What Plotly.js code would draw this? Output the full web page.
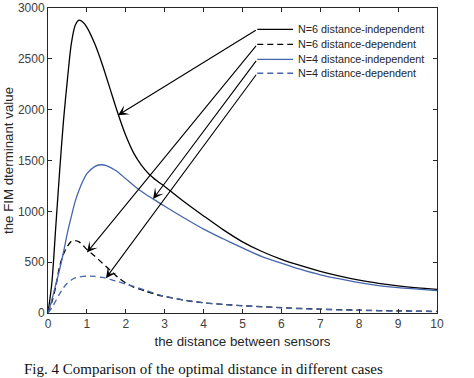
<!DOCTYPE html>
<html>
<head>
<meta charset="utf-8">
<script src="https://cdn.plot.ly/plotly-3.0.1.min.js"></script>
<style>
html,body{margin:0;padding:0;background:#fff;}
#chart{width:474px;height:378px;}
</style>
</head>
<body>
<div id="chart"></div>
<script>
// ---- data ----
var xIndep6 = [0,0.1,0.2,0.3,0.4,0.5,0.6,0.7,0.8,0.9,1.0,1.2,1.4,1.6,1.8,2.0,2.2,2.4,2.6,2.8,3.0,3.5,4.0,4.5,5.0,5.5,6.0,6.5,7.0,7.5,8.0,8.5,9.0,9.5,10];
var yIndep6 = [0,300,850,1400,1900,2300,2650,2830,2880,2860,2810,2650,2440,2200,1960,1745,1575,1455,1365,1300,1245,1095,955,820,700,605,528,465,410,363,323,292,267,248,233];

var xDep6 = [0,0.1,0.2,0.3,0.4,0.5,0.6,0.7,0.8,0.9,1.0,1.2,1.4,1.6,1.8,2.0,2.2,2.5,2.8,3.0,3.5,4.0,4.5,5.0,5.5,6.0,7.0,8.0,9.0,10];
var yDep6 = [0,110,260,460,580,655,705,712,700,665,625,560,490,420,350,295,255,215,180,162,125,100,85,72,62,52,38,28,21,16];

var xIndep4 = [0,0.1,0.2,0.3,0.4,0.5,0.6,0.7,0.8,0.9,1.0,1.2,1.35,1.5,1.75,2.0,2.25,2.5,2.75,3.0,3.5,4.0,4.5,5.0,5.5,6.0,6.5,7.0,7.5,8.0,8.5,9.0,9.5,10];
var yIndep4 = [0,130,280,430,600,790,950,1100,1210,1300,1370,1440,1458,1450,1400,1320,1240,1170,1110,1050,935,825,730,640,555,490,428,375,335,298,270,250,235,220];

var xDep4 = [0,0.1,0.2,0.3,0.4,0.5,0.6,0.7,0.8,0.9,1.0,1.1,1.2,1.4,1.6,1.8,2.0,2.2,2.5,2.8,3.0,3.5,4.0,4.5,5.0,5.5,6.0,7.0,8.0,9.0,10];
var yDep4 = [0,50,120,190,250,295,325,345,355,360,362,363,360,350,330,308,285,262,225,185,165,127,100,84,70,60,50,36,26,19,14];

var seriesNames = ["N=6 distance-independent","N=6 distance-dependent","N=4 distance-independent","N=4 distance-dependent"];
var xTickVals = [0,1,2,3,4,5,6,7,8,9,10];
var yTickVals = [0,500,1000,1500,2000,2500,3000];
var xTitle = "the distance between sensors";
var yTitle = "the FIM dterminant value";
var caption = "Fig. 4 Comparison of the optimal distance in different cases";

// arrow targets on the curves (data coords)
var arrowTipX = [1.80, 1.00, 2.70, 1.49];
var arrowTipY = [1945, 595, 1122, 343];

// ---- styling ----
var BLACK = "#000000", BLUE = "#4565ad";
var colors = [BLACK, BLACK, BLUE, BLUE];
var dashes = ["solid", "6px,4px", "solid", "6px,4px"];
var xs = [xIndep6, xDep6, xIndep4, xDep4];
var ys = [yIndep6, yDep6, yIndep4, yDep4];

var traces = [];
for (var i = 0; i < 4; i++) {
  traces.push({
    type: "scatter", mode: "lines", name: seriesNames[i],
    x: xs[i], y: ys[i],
    line: {color: colors[i], width: 1.3, dash: dashes[i], shape: "spline", smoothing: 0.8},
    hoverinfo: "skip"
  });
}

// legend drawn MATLAB-style (no box) with arrows from each entry to its curve
var legX0 = 5.38, legX1 = 6.30, legTextX = 6.37;
var legY = [2790, 2642, 2494, 2358];
var shapes = [], annotations = [];
for (var j = 0; j < 4; j++) {
  shapes.push({type: "line", xref: "x", yref: "y", x0: legX0, x1: legX1, y0: legY[j], y1: legY[j],
               line: {color: colors[j], width: 1.3, dash: dashes[j]}});
  annotations.push({xref: "x", yref: "y", x: legTextX, y: legY[j], text: seriesNames[j],
                    showarrow: false, xanchor: "left", yanchor: "middle",
                    font: {family: "Liberation Sans, Arial, sans-serif", size: 10.8, color: "#262626"}});
  annotations.push({xref: "x", yref: "y", x: arrowTipX[j], y: arrowTipY[j],
                    axref: "x", ayref: "y", ax: legX0, ay: legY[j], text: "",
                    showarrow: true, arrowhead: 3, arrowsize: 1.6, arrowwidth: 1.1,
                    arrowcolor: "#000", standoff: 0, startstandoff: 0});
}
annotations.push({xref: "paper", yref: "paper", x: -0.068, y: -0.15, xanchor: "left", yanchor: "top",
                  text: caption, showarrow: false,
                  font: {family: "Liberation Serif, Times New Roman, serif", size: 15, color: "#111"}});

var axisFont = {family: "Liberation Sans, Arial, sans-serif", size: 12, color: "#404040"};
var layout = {
  width: 474, height: 378,
  margin: {l: 48, r: 37, t: 8, b: 65, pad: 0},
  paper_bgcolor: "#fff", plot_bgcolor: "#fff",
  showlegend: false,
  xaxis: {
    range: [0, 10], tickvals: xTickVals, ticktext: xTickVals.map(String),
    ticks: "inside", ticklen: 4, tickcolor: "#262626", tickwidth: 1,
    showline: true, mirror: "ticks", linecolor: "#262626", linewidth: 1,
    showgrid: false, zeroline: false, tickfont: axisFont, ticklabeloverflow: "allow",
    title: {text: xTitle, font: {family: "Liberation Sans, Arial, sans-serif", size: 13.3, color: "#262626"}, standoff: 6},
    automargin: false
  },
  yaxis: {
    range: [0, 3000], tickvals: yTickVals, ticktext: yTickVals.map(String),
    ticks: "inside", ticklen: 4, tickcolor: "#262626", tickwidth: 1,
    showline: true, mirror: "ticks", linecolor: "#262626", linewidth: 1,
    showgrid: false, zeroline: false, tickfont: axisFont, ticklabeloverflow: "allow",
    title: {text: yTitle, font: {family: "Liberation Sans, Arial, sans-serif", size: 13.3, color: "#262626"}, standoff: 1},
    automargin: false
  },
  shapes: shapes,
  annotations: annotations
};

Plotly.newPlot("chart", traces, layout, {staticPlot: true, displayModeBar: false});
</script>
</body>
</html>
